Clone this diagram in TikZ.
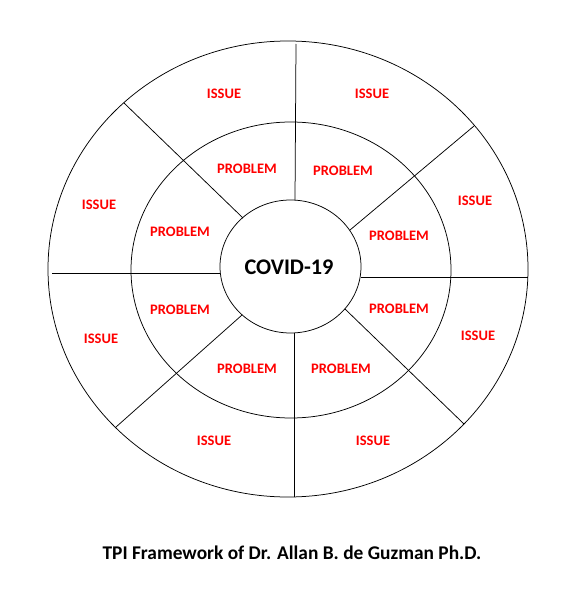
\documentclass[tikz,border=0pt]{standalone}
\usepackage{fontspec}
\setmainfont{Carlito}
\begin{document}
\begin{tikzpicture}[x=1pt,y=-1pt,
  ring/.style={draw=black,line width=0.75pt},
  divider/.style={draw=black,line width=0.75pt},
  issuelbl/.style={text=red,font=\bfseries\fontsize{14.5}{17}\selectfont,inner sep=0pt},
  problbl/.style={text=red,font=\bfseries\fontsize{14.5}{17}\selectfont,inner sep=0pt},
  centerlbl/.style={text=black,font=\bfseries\fontsize{22.3}{25}\selectfont,inner sep=0pt},
  titlelbl/.style={text=black,font=\bfseries\fontsize{19.4}{22}\selectfont,inner sep=0pt}]
\useasboundingbox[fill=white] (0,0) rectangle (586,591);
% rings
\draw[ring] (288,269) ellipse [x radius=240, y radius=228];
\draw[ring] (291,270) ellipse [x radius=160, y radius=148];
\draw[ring] (290.5,266.5) ellipse [x radius=70.5, y radius=66.5];
% divider end points
\coordinate (t1) at (296,44);  \coordinate (t2) at (295,200);
\coordinate (b1) at (294,497); \coordinate (b2) at (294,333);
\coordinate (l1) at (52,273);  \coordinate (l2) at (220,273);
\coordinate (r1) at (528,277); \coordinate (r2) at (361,277);
\coordinate (ul1) at (124,103); \coordinate (ul2) at (243,218);
\coordinate (ur1) at (474,126); \coordinate (ur2) at (350,230);
\coordinate (ll1) at (116,427); \coordinate (ll2) at (242,315);
\coordinate (lr1) at (464,424); \coordinate (lr2) at (345,309);
\draw[divider] (t1) -- (t2);
\draw[divider] (b1) -- (b2);
\draw[divider] (l1) -- (l2);
\draw[divider] (r1) -- (r2);
\draw[divider] (ul1) -- (ul2);
\draw[divider] (ur1) -- (ur2);
\draw[divider] (ll1) -- (ll2);
\draw[divider] (lr1) -- (lr2);
% issues
\node[issuelbl] (i1) at (224,94) {ISSUE};
\node[issuelbl] (i2) at (372,94) {ISSUE};
\node[issuelbl] (i3) at (99,205) {ISSUE};
\node[issuelbl] (i4) at (475,201) {ISSUE};
\node[issuelbl] (i5) at (101,339) {ISSUE};
\node[issuelbl] (i6) at (478,336) {ISSUE};
\node[issuelbl] (i7) at (214,441) {ISSUE};
\node[issuelbl] (i8) at (373,441) {ISSUE};
% problems
\node[problbl] (p1) at (247,169) {PROBLEM};
\node[problbl] (p2) at (343,171) {PROBLEM};
\node[problbl] (p3) at (180,232) {PROBLEM};
\node[problbl] (p4) at (399,236) {PROBLEM};
\node[problbl] (p5) at (180,310) {PROBLEM};
\node[problbl] (p6) at (399,309) {PROBLEM};
\node[problbl] (p7) at (247,369) {PROBLEM};
\node[problbl] (p8) at (341,369) {PROBLEM};
% center
\node[centerlbl] (covid) at (289,267) {COVID-19};
% title
\node[titlelbl] (title) at (292,553) {TPI Framework of Dr. Allan B. de Guzman Ph.D.};
\end{tikzpicture}
\end{document}
